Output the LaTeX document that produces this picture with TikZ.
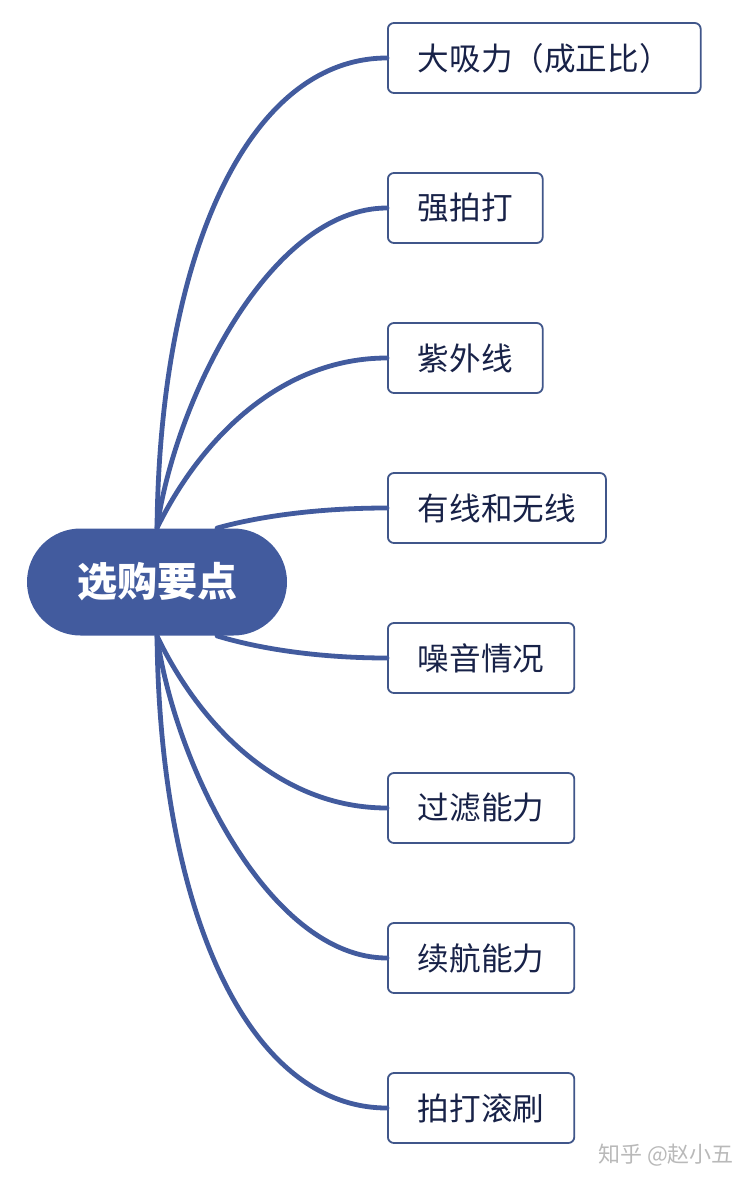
\documentclass[tikz,border=0pt]{standalone}
\usepackage{fontspec}
\setmainfont{Noto Sans CJK SC}
\usetikzlibrary{shapes.misc,calc}
\definecolor{mapblue}{RGB}{66,91,158}
\definecolor{boxline}{RGB}{64,86,138}
\definecolor{itemtext}{RGB}{24,34,72}
\begin{document}
\begin{tikzpicture}[x=0.5pt,y=-0.5pt,
	topic/.style={rounded rectangle,fill=mapblue,text=white,minimum width=130pt,minimum height=53.5pt,inner sep=0pt,font=\fontsize{20}{22}\selectfont\bfseries},
	item/.style={draw=boxline,fill=white,line width=0.9pt,rounded corners=3pt,anchor=west,minimum height=35pt,inner xsep=15pt,text=itemtext,font=\fontsize{15.8}{18}\selectfont},
	branch/.style={mapblue,line width=2.4pt,line cap=round}]
			\useasboundingbox (0,0) rectangle (755,1187);
			\node[topic] (ctr) at (157,582) {选购要点};
			\foreach \y/\nm/\txt in {58/b1/大吸力（成正比）,208/b2/强拍打,358/b3/紫外线,508/b4/有线和无线,658/b5/噪音情况,808/b6/过滤能力,958/b7/续航能力,1108/b8/拍打滚刷}{
				\node[item] (\nm) at (387,\y) {\txt};}
			
			\draw[branch] (ctr.north) .. controls (160,250) and (250,58) .. (b1.west);
			\draw[branch] (ctr.north) .. controls (175,400) and (270,208) .. (b2.west);
			\draw[branch] (ctr.north) .. controls (200,440) and (280,358) .. (b3.west);
			\draw[branch] ($(ctr.north)+(60,0)$) .. controls (260,516) and (320,508) .. (b4.west);
			\draw[branch] ($(ctr.south)+(60,0)$) .. controls (260,649) and (320,658) .. (b5.west);
			\draw[branch] (ctr.south) .. controls (200,726) and (280,808) .. (b6.west);
			\draw[branch] (ctr.south) .. controls (175,766) and (270,958) .. (b7.west);
			\draw[branch] (ctr.south) .. controls (160,916) and (250,1108) .. (b8.west);
			
			\node[text=gray!55,font=\fontsize{11}{13}\selectfont] (mark) at (666,1155) {知乎 @赵小五};
			
		\end{tikzpicture}
\end{document}
